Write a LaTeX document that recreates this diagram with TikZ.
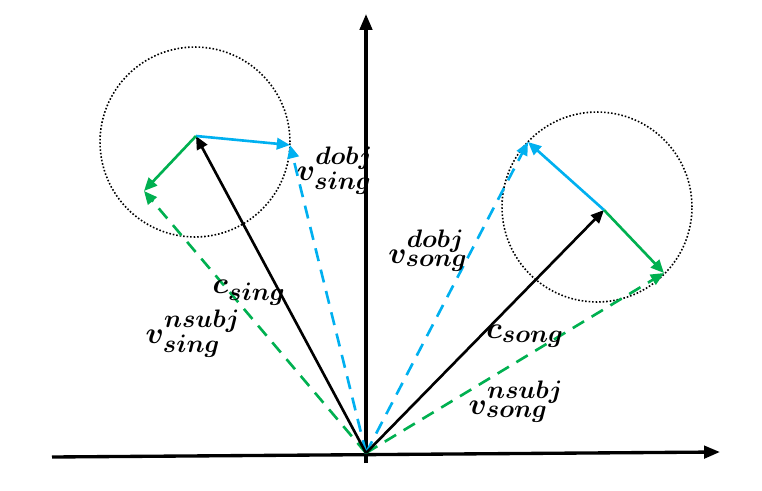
\documentclass[tikz,border=0pt]{standalone}
\usepackage{bm}
\usetikzlibrary{arrows.meta}
\definecolor{dobjblue}{RGB}{0,176,240}
\definecolor{nsubjgreen}{RGB}{0,176,80}
\begin{document}
\begin{tikzpicture}[x=0.02cm,y=-0.02cm,
    axis/.style={line width=1.9pt,-{Triangle[length=9pt,width=7pt]}},
    vec/.style={line width=1.5pt,-{Triangle[length=7.5pt,width=6.5pt]}},
    dvec/.style={vec,dash pattern=on 7.5pt off 5pt},
    ring/.style={draw,line width=0.9pt,dash pattern=on 0.9pt off 1.1pt},
    lab/.style={inner sep=0pt,font=\fontsize{19}{21}\selectfont}]
    \useasboundingbox (0,0) rectangle (762,491);

    \coordinate (o) at (366,453);
    \coordinate (xl) at (52,457);
    \coordinate (xr) at (720,452);
    \coordinate (yb) at (366,463);
    \coordinate (yt) at (366,14);
    \coordinate (csing) at (196,136);
    \coordinate (dsing) at (290,145);
    \coordinate (nsing) at (144,191);
    \coordinate (csong) at (604,210);
    \coordinate (dsong) at (528,142);
    \coordinate (nsong) at (664,273);

    \draw[ring] (195,142) circle [radius=1.9cm];
    \draw[ring] (597,207) circle [radius=1.9cm];

    \draw[axis] (xl) -- (xr);
    \draw[axis] (yb) -- (yt);

    \draw[dvec, nsubjgreen] (o) -- (nsing);
    \draw[dvec, dobjblue] (o) -- (dsing);
    \draw[dvec, dobjblue] (o) -- (dsong);
    \draw[dvec, nsubjgreen] (o) -- (nsong);

    \draw[vec] (o) -- (csing);
    \draw[vec] (o) -- (csong);
    \draw[vec, dobjblue] (csing) -- (dsing);
    \draw[vec, nsubjgreen] (csing) -- (nsing);
    \draw[vec, dobjblue] (csong) -- (dsong);
    \draw[vec, nsubjgreen] (csong) -- (nsong);

    \node (ldsing) at (335,171) [lab] {$\bm{v}^{\bm{dobj}}_{\bm{sing}}$};
    \node (lcsing) at (249,293) [lab] {$\bm{c}_{\bm{sing}}$};
    \node (lnsing) at (193,334) [lab] {$\bm{v}^{\bm{nsubj}}_{\bm{sing}}$};
    \node (ldsong) at (428,251) [lab] {$\bm{v}^{\bm{dobj}}_{\bm{song}}$};
    \node (lcsong) at (525,336) [lab] {$\bm{c}_{\bm{song}}$};
    \node (lnsong) at (516,402) [lab] {$\bm{v}^{\bm{nsubj}}_{\bm{song}}$};
\end{tikzpicture}
\end{document}
